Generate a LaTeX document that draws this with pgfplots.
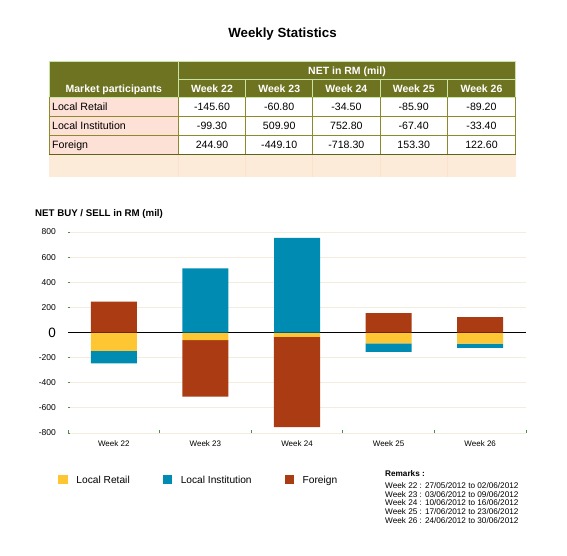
\documentclass[border=0pt]{standalone}
\usepackage{pgfplots}
\pgfplotsset{compat=1.18}
\usepackage{pgfplotstable}
\usepackage{fontspec}
\setmainfont{Liberation Sans}

\definecolor{retail}{HTML}{FDC632}
\definecolor{inst}{HTML}{008CB2}
\definecolor{foreign}{HTML}{AA3B12}
\definecolor{olive}{HTML}{6E7322}
\definecolor{hdrline}{HTML}{C9E4A4}
\definecolor{peach}{HTML}{FDE0D6}
\definecolor{peachlt}{HTML}{FDEBDA}
\definecolor{rowline}{HTML}{8C8A2A}
\definecolor{rowdark}{HTML}{5E6319}
\definecolor{gridc}{HTML}{F2EDDC}
\definecolor{tickc}{HTML}{4F8A4F}

% net buy/sell, RM mil; split into the part below zero and the part above
\pgfplotstableread{
x retail instneg foreignneg instpos foreignpos
0 -145.6 -99.3  0      0     244.9
1 -60.8   0    -449.1  509.9 0
2 -34.5   0    -718.3  752.8 0
3 -85.9  -67.4  0      0     153.3
4 -89.2  -33.4  0      0     122.6
}\netdata

\pgfplotsset{
  netaxis/.style={
    scale only axis, width=458pt, height=201pt,
    at={(68pt,-433pt)}, anchor=south west,
    xmin=-0.5, xmax=4.5, ymin=-800, ymax=800,
    ybar stacked, bar width=46pt,
  },
  sq legend/.style={legend image code/.code={\fill[##1] (0pt,-4pt) rectangle (9.5pt,4.8pt);}},
}

\begin{document}
\begin{tikzpicture}
\useasboundingbox (0pt,0pt) rectangle (567pt,-555pt);

\begin{scope}[x=1pt, y=-1pt, every node/.style={inner sep=0pt}]
  \node[anchor=base, font=\bfseries\fontsize{13.3}{15}\selectfont] at (282.5,37.5) {Weekly Statistics};

  % table backgrounds
  \fill[olive] (49.3,61) rectangle (515.7,97.3);
  \fill[peach] (49.3,97.3) rectangle (178.3,154.3);
  \fill[white] (178.3,97.3) rectangle (515.7,154.3);
  \fill[peachlt] (49.3,154.3) rectangle (515.7,176.7);
  \foreach \xx in {178.3,245.7,312.7,380,447.3}
    \draw[peach!80!orange!60, line width=0.5pt] (\xx,154.3) -- (\xx,176.7);

  % header lines
  \draw[hdrline, line width=0.8pt] (49.3,61) rectangle (515.7,97.3);
  \draw[hdrline, line width=0.8pt] (178.3,61) -- (178.3,97.3) (178.3,79.3) -- (515.7,79.3);
  \foreach \xx in {245.7,312.7,380,447.3}
    \draw[hdrline, line width=0.8pt] (\xx,79.3) -- (\xx,97.3);

  % body lines
  \draw[rowline, line width=0.9pt] (49.3,97.3) -- (49.3,154.3) (515.7,97.3) -- (515.7,154.3)
    (49.3,116) -- (515.7,116) (49.3,135) -- (515.7,135);
  \foreach \xx in {178.3,245.7,312.7,380,447.3}
    \draw[rowline, line width=0.9pt] (\xx,97.3) -- (\xx,154.3);
  \draw[rowdark, line width=1.6pt] (49.3,154.3) -- (515.7,154.3);

  % header text
  \begin{scope}[every node/.append style={anchor=base, text=white, font=\bfseries\fontsize{10.5}{12}\selectfont}]
    \node at (347,74) {NET in RM (mil)};
    \node at (113.8,92) {Market participants};
    \foreach \xc/\wk in {212/22, 279.2/23, 346.4/24, 413.7/25, 481.5/26}
      \node at (\xc,92) {Week \wk};
  \end{scope}

  % body text
  \begin{scope}[every node/.append style={font=\fontsize{10.6}{12}\selectfont}]
    \node[anchor=base west] at (52,110.4) {Local Retail};
    \node[anchor=base west] at (52,129.2) {Local Institution};
    \node[anchor=base west] at (52,148.4) {Foreign};
    \foreach \xc/\a/\b/\c in {212/-145.60/-99.30/244.90, 279.2/-60.80/509.90/-449.10,
        346.4/-34.50/752.80/-718.30, 413.7/-85.90/-67.40/153.30, 481.5/-89.20/-33.40/122.60} {
      \node[anchor=base] at (\xc,110.4) {\a};
      \node[anchor=base] at (\xc,129.2) {\b};
      \node[anchor=base] at (\xc,148.4) {\c};
    }
  \end{scope}

  \node[anchor=base west, font=\bfseries\fontsize{9.7}{11}\selectfont] at (35,216.8) {NET BUY / SELL in RM (mil)};

  % remarks
  \begin{scope}[every node/.append style={anchor=base west, font=\fontsize{8.2}{9}\selectfont}]
    \node[font=\bfseries\fontsize{8.2}{9}\selectfont] at (385,476.3) {Remarks :};
    \node at (385,488)   {Week 22 : 27/05/2012 to 02/06/2012};
    \node at (385,497)   {Week 23 : 03/06/2012 to 09/06/2012};
    \node at (385,505.7) {Week 24 : 10/06/2012 to 16/06/2012};
    \node at (385,514.7) {Week 25 : 17/06/2012 to 23/06/2012};
    \node at (385,523.7) {Week 26 : 24/06/2012 to 30/06/2012};
  \end{scope}
\end{scope}

% negative parts, grid, ticks and legend
\begin{axis}[netaxis,
    axis line style={draw=none},
    tick pos=left,
    xtick={0,1,2,3,4},
    xticklabels={Week 22,Week 23,Week 24,Week 25,Week 26},
    major x tick style={draw=none},
    minor xtick={-0.5,0.5,1.5,2.5,3.5,4.5},
    minor x tick style={draw=tickc, line width=0.8pt},
    minor tick length=3pt,
    xticklabel style={font=\fontsize{8}{9}\selectfont, inner sep=0pt, yshift=-7pt},
    ytick={-800,-600,-400,-200,200,400,600,800},
    major y tick style={draw=tickc, line width=0.8pt},
    major tick length=2pt,
    yticklabel style={font=\fontsize{8.5}{9}\selectfont, inner sep=0pt, xshift=-12pt},
    ymajorgrids, major grid style={draw=gridc, line width=0.8pt},
    extra y ticks={0},
    extra y tick style={grid=none, major y tick style={draw=none},
        yticklabel style={font=\fontsize{13.5}{14}\selectfont}},
    /pgf/number format/assume math mode=true,
    legend columns=3,
    legend cell align=left,
    legend style={draw=none, fill=none, inner sep=0pt,
        at={(-0.0212,-0.2326)}, anchor=west,
        font=\fontsize{10.2}{12}\selectfont,
        nodes={inner sep=0pt, text height=7.5pt, text depth=0pt},
        /tikz/every odd column/.append style={column sep=8.5pt},
        /tikz/every even column/.append style={column sep=33pt}},
]
\addplot[fill=retail, draw=none, sq legend] table[x=x, y=retail] {\netdata};
\addplot[fill=inst, draw=none, sq legend] table[x=x, y=instneg] {\netdata};
\addplot[fill=foreign, draw=none, sq legend] table[x=x, y=foreignneg] {\netdata};
\legend{Local Retail, Local Institution, Foreign}
\end{axis}

% positive parts and the zero line
\begin{axis}[netaxis, hide axis]
\addplot[fill=inst, draw=none] table[x=x, y=instpos] {\netdata};
\addplot[fill=foreign, draw=none] table[x=x, y=foreignpos] {\netdata};
\draw[black, line width=1.3pt] (axis cs:-0.5,0) -- (axis cs:4.5,0);
\end{axis}
\end{tikzpicture}
\end{document}
